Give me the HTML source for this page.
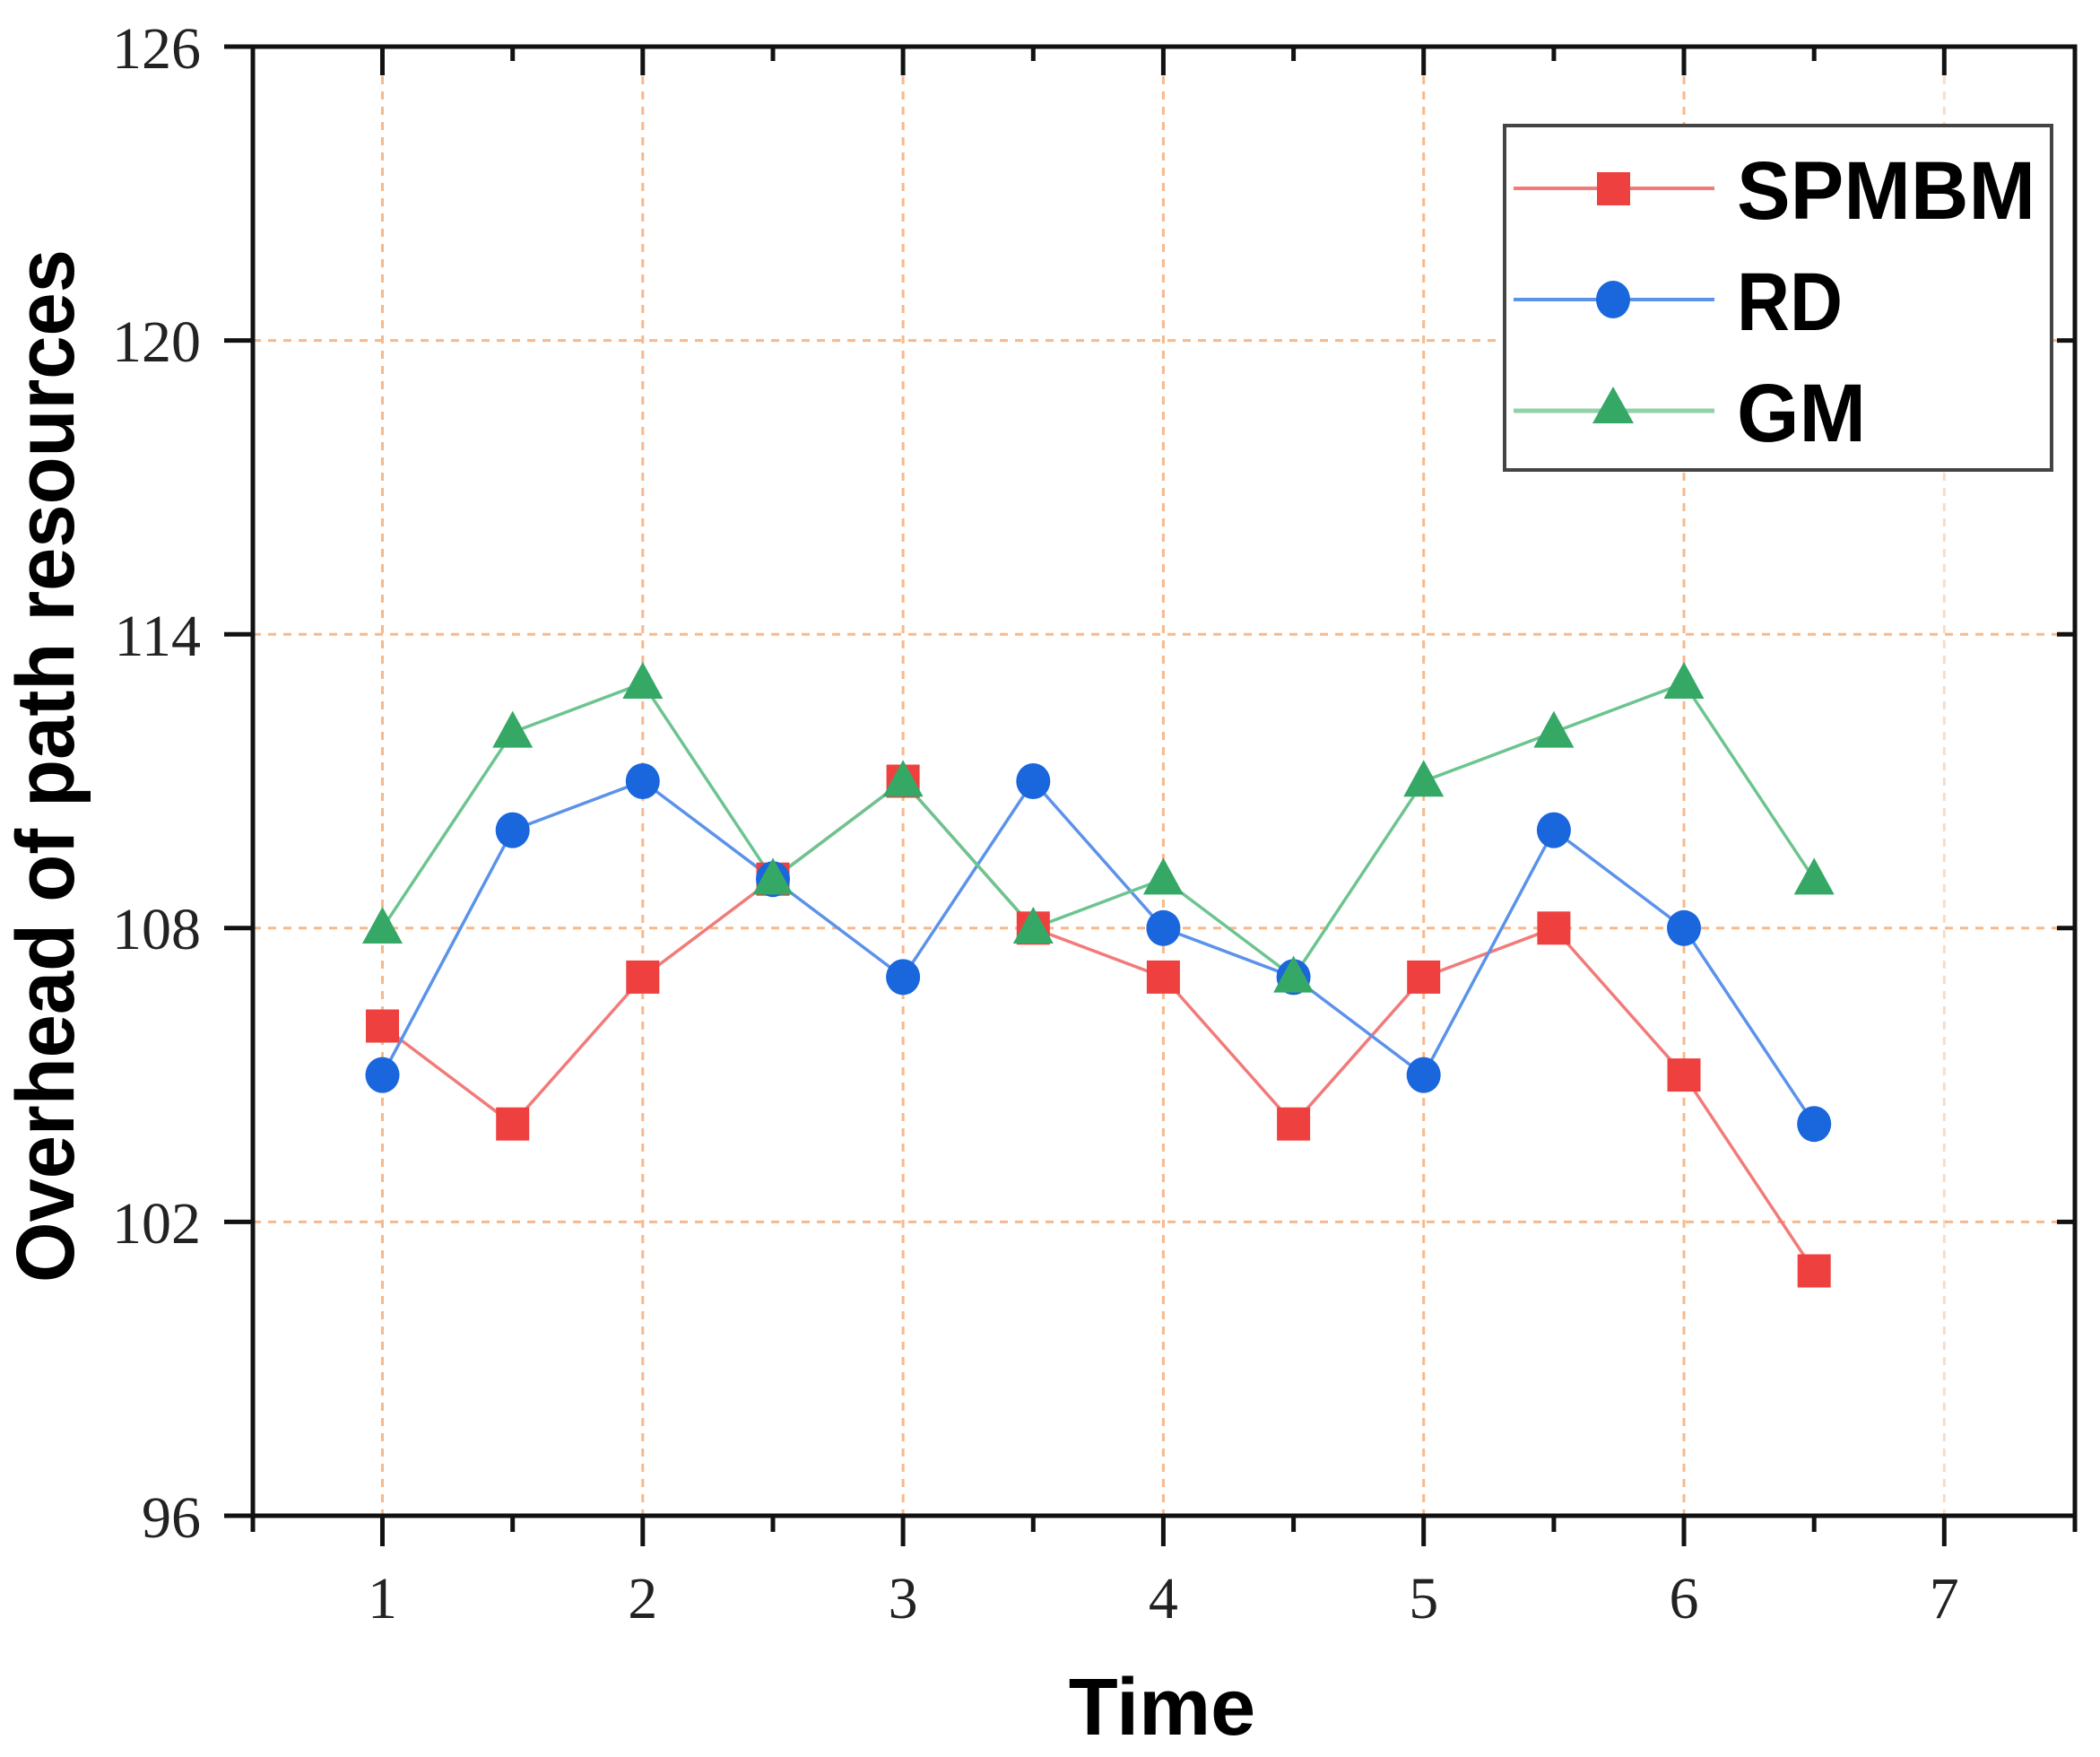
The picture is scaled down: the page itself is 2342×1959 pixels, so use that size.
<!DOCTYPE html>
<html><head><meta charset="utf-8"><style>
html,body{margin:0;padding:0;background:#fff;}
svg{display:block;}
</style></head><body>
<svg width="2342" height="1959" viewBox="0 0 2342 1959" xmlns="http://www.w3.org/2000/svg">
<rect width="2342" height="1959" fill="#fff"/>
<!-- grid -->
<g stroke="#f8b88a" stroke-width="3" stroke-dasharray="9,8" fill="none">
<line x1="282" y1="379.6" x2="2314" y2="379.6"/>
<line x1="282" y1="707.2" x2="2314" y2="707.2"/>
<line x1="282" y1="1034.8" x2="2314" y2="1034.8"/>
<line x1="282" y1="1362.4" x2="2314" y2="1362.4"/>
<line x1="426.5" y1="85" x2="426.5" y2="1690"/>
<line x1="716.8" y1="85" x2="716.8" y2="1690"/>
<line x1="1007.1" y1="85" x2="1007.1" y2="1690"/>
<line x1="1297.4" y1="85" x2="1297.4" y2="1690"/>
<line x1="1587.7" y1="85" x2="1587.7" y2="1690"/>
<line x1="1878" y1="85" x2="1878" y2="1690"/>
<line x1="2168.3" y1="85" x2="2168.3" y2="1690" stroke-opacity="0.5"/>
</g>
<!-- axes frame -->
<rect x="282" y="52" width="2032" height="1638" fill="none" stroke="#111" stroke-width="5"/>
<g stroke="#111" stroke-width="5">
<!-- left ticks -->
<line x1="250" y1="52" x2="282" y2="52"/>
<line x1="250" y1="379.6" x2="282" y2="379.6"/>
<line x1="250" y1="707.2" x2="282" y2="707.2"/>
<line x1="250" y1="1034.8" x2="282" y2="1034.8"/>
<line x1="250" y1="1362.4" x2="282" y2="1362.4"/>
<line x1="250" y1="1690" x2="282" y2="1690"/>
<!-- right ticks inward -->
<line x1="2294" y1="379.6" x2="2314" y2="379.6"/>
<line x1="2294" y1="707.2" x2="2314" y2="707.2"/>
<line x1="2294" y1="1034.8" x2="2314" y2="1034.8"/>
<line x1="2294" y1="1362.4" x2="2314" y2="1362.4"/>
<!-- bottom ticks -->
<line x1="426.5" y1="1690" x2="426.5" y2="1724"/>
<line x1="716.8" y1="1690" x2="716.8" y2="1724"/>
<line x1="1007.1" y1="1690" x2="1007.1" y2="1724"/>
<line x1="1297.4" y1="1690" x2="1297.4" y2="1724"/>
<line x1="1587.7" y1="1690" x2="1587.7" y2="1724"/>
<line x1="1878" y1="1690" x2="1878" y2="1724"/>
<line x1="2168.3" y1="1690" x2="2168.3" y2="1724"/>
<line x1="571.7" y1="1690" x2="571.7" y2="1708"/>
<line x1="862" y1="1690" x2="862" y2="1708"/>
<line x1="1152.3" y1="1690" x2="1152.3" y2="1708"/>
<line x1="1442.6" y1="1690" x2="1442.6" y2="1708"/>
<line x1="1732.9" y1="1690" x2="1732.9" y2="1708"/>
<line x1="2023.2" y1="1690" x2="2023.2" y2="1708"/>
<line x1="282" y1="1690" x2="282" y2="1708"/>
<line x1="2314" y1="1690" x2="2314" y2="1708"/>
<!-- top ticks inward -->
<line x1="426.5" y1="52" x2="426.5" y2="84"/>
<line x1="716.8" y1="52" x2="716.8" y2="84"/>
<line x1="1007.1" y1="52" x2="1007.1" y2="84"/>
<line x1="1297.4" y1="52" x2="1297.4" y2="84"/>
<line x1="1587.7" y1="52" x2="1587.7" y2="84"/>
<line x1="1878" y1="52" x2="1878" y2="84"/>
<line x1="2168.3" y1="52" x2="2168.3" y2="84"/>
<line x1="571.7" y1="52" x2="571.7" y2="68"/>
<line x1="862" y1="52" x2="862" y2="68"/>
<line x1="1152.3" y1="52" x2="1152.3" y2="68"/>
<line x1="1442.6" y1="52" x2="1442.6" y2="68"/>
<line x1="1732.9" y1="52" x2="1732.9" y2="68"/>
<line x1="2023.2" y1="52" x2="2023.2" y2="68"/>
</g>
<!-- tick labels -->
<g font-family="Liberation Serif, serif" font-size="66" fill="#222" text-anchor="end">
<text x="224" y="76">126</text>
<text x="224" y="403">120</text>
<text x="224" y="731">114</text>
<text x="224" y="1058">108</text>
<text x="224" y="1386">102</text>
<text x="224" y="1714">96</text>
</g>
<g font-family="Liberation Serif, serif" font-size="66" fill="#222" text-anchor="middle">
<text x="426.5" y="1804">1</text>
<text x="716.8" y="1804">2</text>
<text x="1007.1" y="1804">3</text>
<text x="1297.4" y="1804">4</text>
<text x="1587.7" y="1804">5</text>
<text x="1878" y="1804">6</text>
<text x="2168.3" y="1804">7</text>
</g>
<!-- axis titles -->
<text x="1296" y="1934" font-family="Liberation Sans, sans-serif" font-weight="bold" font-size="90" text-anchor="middle" fill="#000">Time</text>
<text transform="translate(82,1430) rotate(-90)" x="0" y="0" font-family="Liberation Sans, sans-serif" font-weight="bold" font-size="92" textLength="1152" lengthAdjust="spacingAndGlyphs" fill="#000">Overhead of path resources</text>
<!-- series lines -->
<polyline fill="none" stroke="#f27a7a" stroke-width="3.5" points="426.5,1144 571.7,1253.2 716.8,1089.4 862,980.2 1007.1,871 1152.3,1034.8 1297.4,1089.4 1442.6,1253.2 1587.7,1089.4 1732.9,1034.8 1878,1198.6 2023.2,1417"/>
<polyline fill="none" stroke="#5b92ea" stroke-width="3.5" points="426.5,1198.6 571.7,925.6 716.8,871 862,980.2 1007.1,1089.4 1152.3,871 1297.4,1034.8 1442.6,1089.4 1587.7,1198.6 1732.9,925.6 1878,1034.8 2023.2,1253.2"/>
<polyline fill="none" stroke="#6cc48f" stroke-width="3.5" points="426.5,1034.8 571.7,816.4 716.8,761.8 862,980.2 1007.1,871 1152.3,1034.8 1297.4,980.2 1442.6,1089.4 1587.7,871 1732.9,816.4 1878,761.8 2023.2,980.2"/>
<!-- markers -->
<g fill="#ef4040">
<rect x="408" y="1125.5" width="37" height="37"/><rect x="553.2" y="1234.7" width="37" height="37"/><rect x="698.3" y="1070.9" width="37" height="37"/><rect x="843.5" y="961.7" width="37" height="37"/><rect x="988.6" y="852.5" width="37" height="37"/><rect x="1133.8" y="1016.3" width="37" height="37"/><rect x="1278.9" y="1070.9" width="37" height="37"/><rect x="1424.1" y="1234.7" width="37" height="37"/><rect x="1569.2" y="1070.9" width="37" height="37"/><rect x="1714.4" y="1016.3" width="37" height="37"/><rect x="1859.5" y="1180.1" width="37" height="37"/><rect x="2004.7" y="1398.5" width="37" height="37"/>
</g>
<g fill="#1a66dd">
<ellipse cx="426.5" cy="1198.6" rx="19" ry="20"/><ellipse cx="571.7" cy="925.6" rx="19" ry="20"/><ellipse cx="716.8" cy="871" rx="19" ry="20"/><ellipse cx="862" cy="980.2" rx="19" ry="20"/><ellipse cx="1007.1" cy="1089.4" rx="19" ry="20"/><ellipse cx="1152.3" cy="871" rx="19" ry="20"/><ellipse cx="1297.4" cy="1034.8" rx="19" ry="20"/><ellipse cx="1442.6" cy="1089.4" rx="19" ry="20"/><ellipse cx="1587.7" cy="1198.6" rx="19" ry="20"/><ellipse cx="1732.9" cy="925.6" rx="19" ry="20"/><ellipse cx="1878" cy="1034.8" rx="19" ry="20"/><ellipse cx="2023.2" cy="1253.2" rx="19" ry="20"/>
</g>
<g fill="#35a866">
<polygon points="426.5,1011 449,1052 404,1052"/><polygon points="571.7,792.6 594.2,833.6 549.2,833.6"/><polygon points="716.8,738 739.3,779 694.3,779"/><polygon points="862,956.4 884.5,997.4 839.5,997.4"/><polygon points="1007.1,847.2 1029.6,888.2 984.6,888.2"/><polygon points="1152.3,1011 1174.8,1052 1129.8,1052"/><polygon points="1297.4,956.4 1319.9,997.4 1274.9,997.4"/><polygon points="1442.6,1065.6 1465.1,1106.6 1420.1,1106.6"/><polygon points="1587.7,847.2 1610.2,888.2 1565.2,888.2"/><polygon points="1732.9,792.6 1755.4,833.6 1710.4,833.6"/><polygon points="1878,738 1900.5,779 1855.5,779"/><polygon points="2023.2,956.4 2045.7,997.4 2000.7,997.4"/>
</g>
<!-- legend -->
<rect x="1678" y="140" width="610" height="384" fill="#fff" stroke="#444" stroke-width="4"/>
<line x1="1688" y1="210" x2="1912" y2="210" stroke="#f27a7a" stroke-width="4"/>
<rect x="1781" y="192" width="37" height="37" fill="#ef4040"/>
<line x1="1688" y1="334" x2="1912" y2="334" stroke="#5b92ea" stroke-width="4"/>
<ellipse cx="1799" cy="334" rx="19" ry="21" fill="#1a66dd"/>
<line x1="1688" y1="458" x2="1912" y2="458" stroke="#8fd2aa" stroke-width="5"/>
<polygon points="1799,431 1822,472 1776,472" fill="#35a866"/>
<g font-family="Liberation Sans, sans-serif" font-weight="bold" font-size="92" fill="#000">
<text x="1937" y="244" textLength="333" lengthAdjust="spacingAndGlyphs">SPMBM</text>
<text x="1937" y="368" textLength="118" lengthAdjust="spacingAndGlyphs">RD</text>
<text x="1937" y="492" textLength="144" lengthAdjust="spacingAndGlyphs">GM</text>
</g>
</svg>
</body></html>
